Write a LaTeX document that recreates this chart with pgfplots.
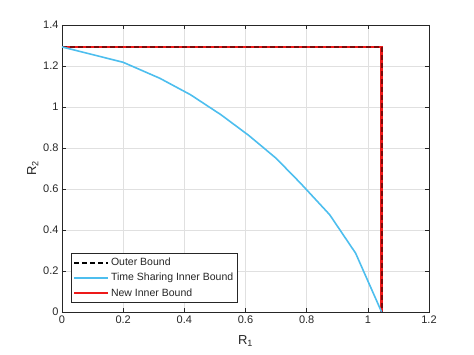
\documentclass[border=0pt]{standalone}
\usepackage{pgfplots}
\pgfplotsset{compat=1.18}
\usepackage{fontspec}
\setmainfont{Liberation Sans}
\definecolor{mcyan}{rgb}{0.301,0.745,0.933}
\definecolor{mred}{rgb}{0.93,0.1,0.1}
\definecolor{axgray}{rgb}{0.15,0.15,0.15}
\begin{document}
\begin{tikzpicture}
\begin{axis}[
  scale only axis,
  width=367pt, height=287pt,
  xmin=0, xmax=1.2, ymin=0, ymax=1.4,
  xtick={0,0.2,...,1.2}, ytick={0,0.2,...,1.4},
  xticklabels={0,0.2,0.4,0.6,0.8,1,1.2},
  yticklabels={0,0.2,0.4,0.6,0.8,1,1.2,1.4},
  /pgf/number format/assume math mode=true,
  tick label style={font=\fontsize{11}{13}\selectfont, text=axgray},
  grid=major,
  major grid style={color=black!12, line width=0.4pt},
  axis line style={color=axgray, line width=0.6pt},
  tick style={color=axgray, line width=0.5pt},
  tick align=inside,
  major tick length=4pt,
  xlabel={R\textsubscript{1}}, ylabel={R\textsubscript{2}},
  xlabel style={font=\fontsize{13}{15}\selectfont, text=axgray, yshift=-5pt},
  ylabel style={font=\fontsize{13}{15}\selectfont, text=axgray, yshift=-2pt},
  legend style={at={(axis cs:0.0295,0.0445)}, anchor=south west, font=\fontsize{10.5}{12}\selectfont,
    draw=axgray, line width=0.6pt, inner xsep=2pt, inner ysep=3pt, row sep=2pt, text=axgray},
  legend cell align=left,
  legend image code/.code={\draw[#1] (0cm,0cm) -- (1.2cm,0cm);},
]
\addplot[mred, line width=2.2pt, forget plot] coordinates {(0,1.293) (1.045,1.293) (1.045,0)};
\addplot[black!80!red, opacity=0.6, line width=1.9pt, dash pattern=on 5pt off 3pt, forget plot] coordinates {(0,1.293) (1.045,1.293) (1.045,0)};
\addplot[mcyan, line width=1.6pt, forget plot] coordinates {
(0,1.293) (0.2,1.218) (0.32,1.14) (0.42,1.06) (0.52,0.962) (0.61,0.862) (0.70,0.75) (0.78,0.628) (0.875,0.475) (0.96,0.287) (1.045,0)};
\addlegendimage{black, line width=1.6pt, dash pattern=on 5pt off 3pt}
\addlegendentry{Outer Bound}
\addlegendimage{mcyan, line width=1.6pt}
\addlegendentry{Time Sharing Inner Bound}
\addlegendimage{mred, line width=1.6pt}
\addlegendentry{New Inner Bound}
\end{axis}
\path[use as bounding box] ([shift={(-62pt,-43pt)}]current axis.south west) rectangle ([shift={(45pt,25pt)}]current axis.north east);
\end{tikzpicture}
\end{document}
